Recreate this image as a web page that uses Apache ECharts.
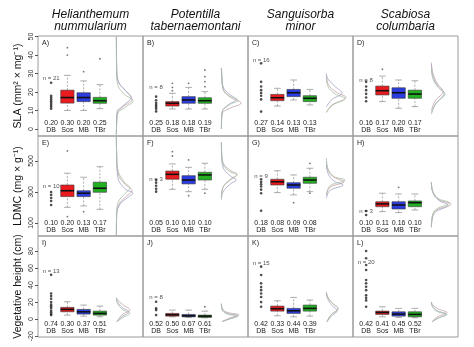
<!DOCTYPE html>
<html><head><meta charset="utf-8">
<script src="https://cdn.jsdelivr.net/npm/echarts@6/dist/echarts.min.js"></script>
<style>html,body{margin:0;padding:0;background:#fff}#c{width:474px;height:347px}</style>
</head><body><div id="c"></div>
<script>
const species = ['Helianthemum\nnummularium','Potentilla\ntabernaemontani','Sanguisorba\nminor','Scabiosa\ncolumbaria'];
const rowTitles = ['SLA (mm² × mg⁻¹)','LDMC (mg × g⁻¹)','Vegetative height (cm)'];
const panelLetters = ['A)','B)','C)','D)','E)','F)','G)','H)','I)','J)','K)','L)'];
const categories = ['DB','Sos','MB','TBr'];
const yTicks = [[0,10,20,30,40,50],[100,300,500],[-20,0,20,40,60,80]];
const yRange = [[-3.8,50.3],[16,661],[-21,97.6]];
const nCounts = [21,8,16,8,10,3,9,3,13,8,15,20];
const nLabelPos = [27.6,22.3,37.3,26.1,334,382,403,172,55.7,25,65.5,66.2];
const cvValues = [
 ['0.20','0.30','0.20','0.25'],['0.25','0.18','0.18','0.19'],['0.27','0.14','0.13','0.13'],['0.16','0.17','0.20','0.17'],
 ['0.10','0.20','0.13','0.17'],['0.05','0.10','0.10','0.10'],['0.18','0.08','0.09','0.08'],['0.10','0.11','0.16','0.10'],
 ['0.74','0.30','0.37','0.51'],['0.52','0.50','0.67','0.61'],['0.42','0.33','0.44','0.39'],['0.42','0.41','0.45','0.52']];
// [min, Q1, median, Q3, max]
const sosBox = [[10,14,17,21,29],[10.8,12.4,13.9,14.8,19.3],[12.4,15.3,16.9,18.7,22],[14.8,18.4,20.7,23.2,28.6],
 [201,270,308,345,421],[317,382,414,435,481],[296,345,366,382,437],[173,205,223,237,292],
 [4.7,8.6,11.4,13.8,20.4],[2.7,3.5,5.1,6.7,10.6],[3.9,9.4,12.2,15.3,21.6],[2.7,5.5,7.8,9.4,14.5]];
const mbBox = [[10,14.8,17,19.6,26],[10.8,13.9,15.7,17.5,22.5],[15.7,17.5,19.6,21.4,26.5],[11.2,16.6,19.6,22.3,26.5],
 [210,270,292,308,395],[302,352,377,405,459],[281,324,345,360,410],[167,190,216,237,287],
 [3.5,5.9,8.6,11.4,16.5],[2,2.7,3.9,5.5,10.6],[2.7,6.7,9.8,12.6,25.5],[2,3.5,5.9,8.6,12.6]];
const tbrBox = [[11,13.9,15.3,17.1,24],[10.8,13.9,15.3,16.9,20.2],[13,14.8,16.6,18,21.4],[12.1,16.6,18.9,21,26.1],
 [188,298,324,363,463],[317,377,410,427,485],[302,356,377,395,453],[184,205,231,242,287],
 [2.7,4.7,6.7,9.4,15.3],[1.5,2,3.5,4.7,9.4],[3.5,9.4,12.6,16.5,22.4],[1.6,2.7,5.5,8.6,12.6]];
const sosOut = [[40,44],[20.7,22.5,24.7],[],[32.3],[565,141],[532,560],[],[],[],[],[],[]];
const mbOut = [[31],[24.7],[],[],[173],[507,276],[231],[330],[],[],[],[]];
const tbrOut = [[38],[22.9,25.6,28.3,31.9],[],[],[],[292],[485,292],[],[],[14.5],[],[]];
const dbPoints = [[11,12,13,14,15,16,17,18,25],[9.5,11,12,13,14,15.5,17.5],[9.4,16,18,19.5,21,23,25.5,35.5],[15,17,19,21,23,25.5],
 [216,242,261,281,300],[302,320,340,360,377],[179,292,315,335,350,365,382],[151,177],
 [4.7,6,8,10,13,15,17,20,24,27,30,52],[4.7,10.6,12.6,20.4],[14.5,20,26,30,34,37.6,42,51.8,61.6],[14.5,22,25,28,34,38,42,46,57.6,63.5,71.4,80]];
// density curves: [value, density]
const densSos = [
 [[-3,0.02],[8,0.05],[12,0.35],[16,0.8],[20,0.55],[25,0.15],[32,0.04],[50,0.02]],
 [[0,0.02],[8,0.05],[11,0.4],[14,1.0],[17,0.5],[21,0.12],[28,0.04],[33,0.02]],
 [[9,0.02],[13,0.3],[17,1.0],[20,0.5],[24,0.12],[29,0.02]],
 [[10,0.02],[15,0.2],[20.5,0.6],[24,0.35],[30,0.1],[36,0.02]],
 [[20,0.02],[150,0.03],[220,0.15],[270,0.5],[310,0.8],[350,0.45],[420,0.1],[550,0.03],[660,0.02]],
 [[260,0.02],[330,0.1],[380,0.45],[414,0.8],[440,0.45],[490,0.1],[560,0.03],[620,0.02]],
 [[280,0.02],[330,0.2],[366,0.9],[395,0.4],[440,0.1],[500,0.02]],
 [[80,0.02],[170,0.15],[222,1.0],[250,0.4],[300,0.1],[360,0.02]],
 [[-3,0.05],[5,0.3],[11,0.7],[16,0.4],[22,0.1],[25,0.02]],
 [[-3,0.05],[1,0.4],[5,0.9],[8,0.3],[12,0.08],[18,0.02]],
 [[-3,0.05],[5,0.25],[12,0.6],[18,0.35],[26,0.08],[32,0.02]],
 [[-3,0.05],[3,0.35],[7.8,0.8],[12,0.35],[17,0.08],[20,0.02]]];
const densMB = [
 [[-3,0.02],[9,0.05],[13,0.4],[17,0.75],[21,0.45],[26,0.1],[34,0.03],[50,0.02]],
 [[0,0.02],[9,0.05],[13,0.35],[16,0.75],[19,0.4],[23,0.1],[30,0.03],[33,0.02]],
 [[12,0.02],[16,0.3],[19.5,0.8],[23,0.45],[27,0.1],[30,0.02]],
 [[8,0.02],[13,0.2],[19.5,0.65],[23,0.35],[29,0.08],[35,0.02]],
 [[20,0.02],[150,0.03],[220,0.2],[265,0.6],[292,0.85],[320,0.45],[400,0.08],[550,0.03],[660,0.02]],
 [[250,0.02],[300,0.1],[350,0.45],[378,0.75],[405,0.45],[460,0.1],[540,0.03],[620,0.02]],
 [[260,0.02],[310,0.2],[345,0.85],[370,0.4],[420,0.1],[480,0.02]],
 [[70,0.02],[160,0.15],[216,0.85],[245,0.4],[300,0.08],[360,0.02]],
 [[-3,0.05],[3,0.3],[8.6,0.65],[13,0.35],[20,0.08],[25,0.02]],
 [[-3,0.05],[0,0.4],[4,0.8],[7,0.3],[12,0.05],[18,0.02]],
 [[-3,0.05],[3,0.25],[10,0.55],[16,0.3],[24,0.08],[30,0.02]],
 [[-3,0.05],[1,0.35],[6,0.75],[10,0.3],[16,0.06],[20,0.02]]];
const densTBr = [
 [[-3,0.02],[8,0.08],[12,0.5],[15,0.85],[19,0.4],[24,0.08],[30,0.03],[50,0.02]],
 [[0,0.02],[9,0.05],[13,0.4],[15.5,0.85],[18,0.4],[22,0.1],[30,0.04],[33,0.02]],
 [[9,0.02],[13,0.35],[16.5,0.95],[19,0.45],[23,0.1],[28,0.02]],
 [[9,0.02],[14,0.25],[19,0.7],[22,0.4],[27,0.1],[33,0.02]],
 [[20,0.02],[150,0.03],[230,0.1],[290,0.45],[325,0.7],[365,0.4],[450,0.08],[550,0.03],[660,0.02]],
 [[260,0.02],[330,0.1],[375,0.45],[410,0.8],[430,0.45],[480,0.1],[560,0.03],[620,0.02]],
 [[280,0.02],[340,0.2],[377,0.95],[400,0.4],[450,0.1],[520,0.02]],
 [[80,0.02],[175,0.15],[231,0.9],[255,0.4],[300,0.1],[365,0.02]],
 [[-3,0.05],[2,0.35],[6.7,0.7],[11,0.35],[18,0.08],[24,0.02]],
 [[-3,0.05],[0,0.4],[3.5,0.85],[6,0.3],[11,0.05],[18,0.02]],
 [[-3,0.05],[5,0.25],[12.6,0.6],[19,0.3],[26,0.08],[32,0.02]],
 [[-3,0.05],[1,0.35],[5.5,0.8],[9,0.3],[15,0.06],[20,0.02]]];

const FONT = '"Liberation Sans", Arial, sans-serif';
const colLeft = [38,143,248,353], panelW = 105;
const rowTop = [36,136,236], rowH = [100,100,101];
const boxFills = ['#ea1b1f','#2b3de0','#22b022'];
const densColors = ['#c4a3a3','#a3a3c6','#a6bfa6'];

function renderBox(params, api){
  const cat = api.value(0);
  const v = [1,2,3,4,5].map(i=>api.value(i));
  const band = api.size([1,0])[0];
  const half = band*0.41;
  const cx = api.coord([cat, v[2]])[0];
  const y = v.map(val=>api.coord([cat,val])[1]);
  const wh = {stroke:'#8a8a8a', lineWidth:0.7, lineDash:[2,1.5]};
  const cap = {stroke:'#8a8a8a', lineWidth:0.7};
  return {type:'group', children:[
    {type:'line', shape:{x1:cx,y1:y[0],x2:cx,y2:y[1]}, style:wh},
    {type:'line', shape:{x1:cx,y1:y[3],x2:cx,y2:y[4]}, style:wh},
    {type:'line', shape:{x1:cx-half/2,y1:y[0],x2:cx+half/2,y2:y[0]}, style:cap},
    {type:'line', shape:{x1:cx-half/2,y1:y[4],x2:cx+half/2,y2:y[4]}, style:cap},
    {type:'rect', shape:{x:cx-half,y:y[3],width:2*half,height:Math.max(1,y[1]-y[3])}, style:{fill:boxFills[cat-1], stroke:'#3a3a3a', lineWidth:0.6}},
    {type:'line', shape:{x1:cx-half,y1:y[2],x2:cx+half,y2:y[2]}, style:{stroke:'#111', lineWidth:1.6}}
  ]};
}

const grid=[], xAxis=[], yAxis=[], series=[], graphic=[];
for (let p=0;p<12;p++){
  const r=Math.floor(p/4), c=p%4;
  const L=colLeft[c], T=rowTop[r], H=rowH[r];
  const gi=3*p;
  grid.push({left:L, top:T, width:panelW, height:H, show:true, borderColor:'#9a9a9a', borderWidth:1, backgroundColor:'transparent'});
  grid.push({left:L+5, top:T, width:65, height:H});
  grid.push({left:L+78, top:T, width:20, height:H});
  xAxis.push({gridIndex:gi, type:'value', min:0, max:1, show:false});
  xAxis.push({gridIndex:gi+1, type:'category', data:categories, axisLine:{show:false}, axisTick:{show:false}, splitLine:{show:false},
    axisLabel:{inside:true, margin:2, interval:0, fontSize:7, lineHeight:7, color:'#222', fontFamily:FONT,
      formatter:(val,i)=>cvValues[p][i]+'\n'+val}});
  xAxis.push({gridIndex:gi+2, type:'value', min:0, max:1, show:false});
  const [mn,mx]=yRange[r];
  yAxis.push({gridIndex:gi, type:'value', min:mn, max:mx, axisLine:{show:false}, splitLine:{show:false},
    axisTick:{show:c===0, length:3, customValues:yTicks[r], lineStyle:{color:'#555'}},
    axisLabel:{show:c===0, customValues:yTicks[r], rotate:90, fontSize:7, margin:3, color:'#333', fontFamily:FONT},
    name:c===0?rowTitles[r]:'', nameLocation:'middle', nameGap:20, nameRotate:90,
    nameTextStyle:{fontSize:10.5, color:'#111', fontFamily:FONT, verticalAlign:'middle'}});
  yAxis.push({gridIndex:gi+1, type:'value', min:mn, max:mx, show:false});
  yAxis.push({gridIndex:gi+2, type:'value', min:mn, max:mx, show:false});

  const boxData=[[1,...sosBox[p]],[2,...mbBox[p]],[3,...tbrBox[p]]];
  series.push({type:'custom', xAxisIndex:gi+1, yAxisIndex:gi+1, data:boxData, encode:{x:0,y:[1,2,3,4,5]}, renderItem:renderBox, clip:false, z:3});
  series.push({type:'scatter', xAxisIndex:gi+1, yAxisIndex:gi+1, data:dbPoints[p].map(v=>[0,v]), symbolSize:2.6, itemStyle:{color:'#222'}, z:4});
  const outs=[].concat(sosOut[p].map(v=>[1,v]), mbOut[p].map(v=>[2,v]), tbrOut[p].map(v=>[3,v]));
  series.push({type:'scatter', xAxisIndex:gi+1, yAxisIndex:gi+1, data:outs, symbolSize:1.8, itemStyle:{color:'#555'}, z:4});
  series.push({type:'scatter', xAxisIndex:gi+1, yAxisIndex:gi+1, data:[[0,nLabelPos[p]]], symbolSize:0.1, itemStyle:{color:'transparent'},
    label:{show:true, position:'inside', formatter:'n = '+nCounts[p], fontSize:6, color:'#222', fontFamily:FONT}, z:5});
  [densSos,densMB,densTBr].forEach((d,k)=>{
    series.push({type:'line', xAxisIndex:gi+2, yAxisIndex:gi+2, data:d[p].map(([v,dd])=>[dd,v]), smooth:0.4, symbol:'none',
      lineStyle:{width:0.8, color:densColors[k]}, clip:false, z:2});
  });
  graphic.push({type:'text', x:L+4, y:T+4, style:{text:panelLetters[p], font:'7px '+FONT, fill:'#222'}});
}
for (let c=0;c<4;c++){
  graphic.push({type:'text', x:colLeft[c]+panelW/2, y:9, style:{text:species[c], align:'center', textAlign:'center', verticalAlign:'top', textVerticalAlign:'top', font:'italic 12px '+FONT, lineHeight:12, fill:'#111'}});
}
const chart = echarts.init(document.getElementById('c'), null, {renderer:'canvas', width:474, height:347});
chart.setOption({animation:false, backgroundColor:'#fff', grid, xAxis, yAxis, series, graphic});
</script></body></html>
